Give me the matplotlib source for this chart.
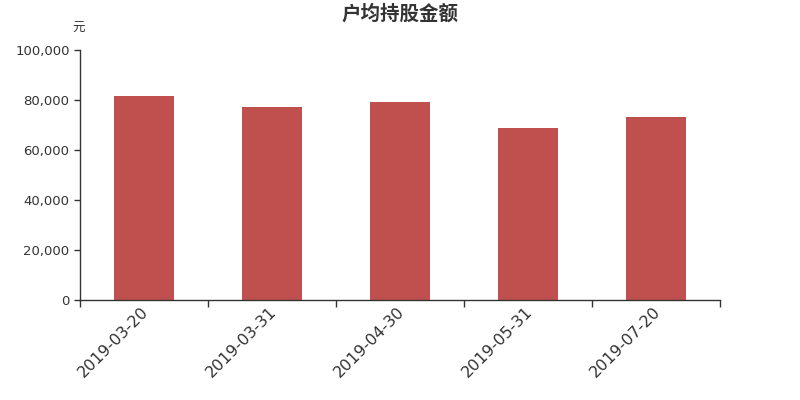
import matplotlib
matplotlib.use("Agg")
import matplotlib.pyplot as plt
import matplotlib.transforms as mtransforms
from matplotlib.ticker import FuncFormatter, FixedLocator
import numpy as np

plt.rcParams['font.family'] = ['DejaVu Sans', 'Noto Sans CJK SC']

categories = ["2019-03-20", "2019-03-31", "2019-04-30", "2019-05-31", "2019-07-20"]
values = [81700, 77300, 79200, 68900, 73300]
yticks = [0, 20000, 40000, 60000, 80000, 100000]

fig = plt.figure(figsize=(8, 4), dpi=100)
ax = fig.add_axes([80/800, 100/400, 640/800, 250/400])

x = np.arange(len(categories))
ax.bar(x, values, width=0.47, color="#c0504d", zorder=2)

ax.set_xlim(-0.5, len(categories) - 0.5)
ax.set_ylim(0, 100000)
ax.set_yticks(yticks)
ax.yaxis.set_major_formatter(FuncFormatter(lambda v, p: f"{int(v):,}"))
ax.tick_params(axis='y', labelsize=9.5, colors="#333333", length=4, width=1)

ax.set_xticks(x)
ax.set_xticklabels(categories, rotation=45, ha='right', rotation_mode='anchor', fontsize=11.5, color="#333333")
ax.tick_params(axis='x', which='major', length=0, pad=3)
offset = mtransforms.ScaledTranslation(-3/100, 0, fig.dpi_scale_trans)
for lbl in ax.get_xticklabels():
    lbl.set_transform(lbl.get_transform() + offset)
ax.xaxis.set_minor_locator(FixedLocator(np.arange(-0.5, len(categories), 1.0)))
ax.tick_params(axis='x', which='minor', length=5, width=1, color="#333333")

for s in ['top', 'right']:
    ax.spines[s].set_visible(False)
for s in ['left', 'bottom']:
    ax.spines[s].set_color("#333333")
    ax.spines[s].set_linewidth(1)

fig.text(400/800, 1 - 14/400, "户均持股金额", ha='center', va='center', fontsize=14, fontweight='bold', color="#333333",
         family=['Noto Sans CJK SC', 'DejaVu Sans'])
fig.text(79/800, 1 - 28/400, "元", ha='center', va='center', fontsize=9, color="#333333",
         family=['Noto Sans CJK SC', 'DejaVu Sans'])

fig.savefig("out.png", dpi=100)
